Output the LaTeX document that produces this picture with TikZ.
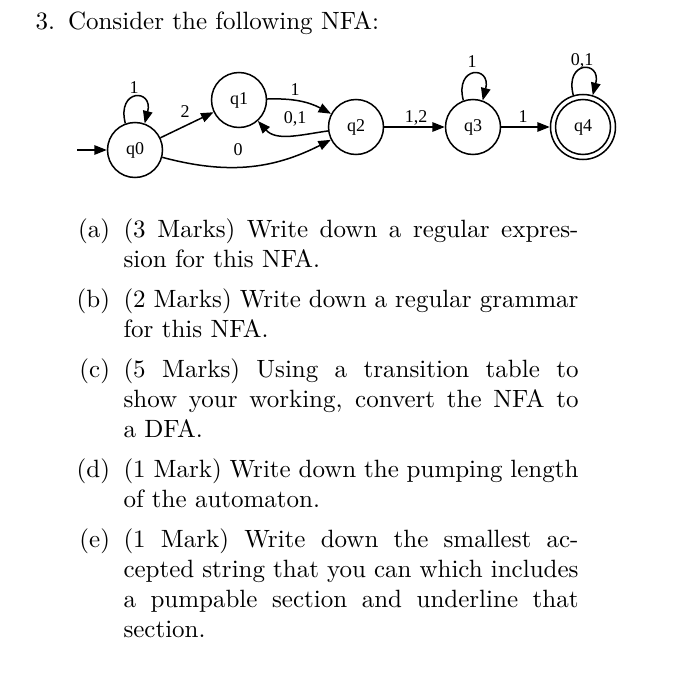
\documentclass[tikz,border=0pt]{standalone}
\usepackage{fontspec}
\newfontfamily\gvfont{Liberation Serif}
\usetikzlibrary{arrows.meta}
\tikzset{
  state/.style={circle, draw, line width=0.6pt, minimum size=22pt, inner sep=0pt, font=\gvfont\fontsize{7.2pt}{8pt}\selectfont},
  arr/.style={line width=0.6pt, -{Triangle[length=5pt,width=3.8pt]}},
  elab/.style={anchor=base, inner sep=0pt, font=\gvfont\fontsize{7.2pt}{8pt}\selectfont},
  tline/.style={anchor=base west, inner sep=0pt},
  ilab/.style={anchor=base east, inner sep=0pt}
}
\newcommand{\jline}[1]{\hbox to 182pt{#1}}
\begin{document}
\begin{tikzpicture}[x=0.4pt, y=-0.4pt]
\path[use as bounding box] (0,0) rectangle (700,680);

% title
\node[tline] (num) at (35,29) {3.};
\node[tline] (title) at (67.5,29) {Consider the following NFA:};

% automaton
\node[state] (q0) at (135,150) {q0};
\node[state] (q1) at (239,100) {q1};
\node[state] (q2) at (356,127) {q2};
\node[state] (q3) at (473,127) {q3};
\node[state, minimum size=26pt] (q4) at (583,127) {q4};
\draw[line width=0.6pt] (q4.center) circle[radius=11pt];
\coordinate (start) at (77,150);

\draw[arr] (start) -- (q0);
\draw[arr] (q0.110) .. controls +(-3.6pt,14pt) and +(3.6pt,14pt) .. (q0.70);
\draw[arr] (q0) -- (q1);
\draw[arr] (q1) to[out=2, in=152] (q2);
\draw[arr] (q2) to[out=188, in=-48] (q1);
\draw[arr] (q0) to[out=-15, in=207] (q2);
\draw[arr] (q2) -- (q3);
\draw[arr] (q3.110) .. controls +(-3.6pt,14pt) and +(3.6pt,14pt) .. (q3.70);
\draw[arr] (q3) -- (q4);
\draw[arr] (q4.107) .. controls +(-3.6pt,14pt) and +(3.6pt,14pt) .. (q4.73);

\node[elab] (l00) at (134,94) {1};
\node[elab] (l01) at (185,117) {2};
\node[elab] (l02) at (238,155) {0};
\node[elab] (l12) at (295,95) {1};
\node[elab] (l21) at (295,123) {0,1};
\node[elab] (l23) at (416,122) {1,2};
\node[elab] (l33) at (472,68) {1};
\node[elab] (l34) at (523,122) {1};
\node[elab] (l44) at (582,65) {0,1};

% questions
\node[ilab] (la) at (110.5,237) {(a)};
\node[tline] (a1) at (123,237) {\jline{(3 Marks) Write down a regular expres-}};
\node[tline] (a2) at (123,267) {sion for this NFA.};

\node[ilab] (lb) at (110.5,307) {(b)};
\node[tline] (b1) at (123,307) {\jline{(2 Marks) Write down a regular grammar}};
\node[tline] (b2) at (123,337) {for this NFA.};

\node[ilab] (lc) at (110.5,377) {(c)};
\node[tline] (c1) at (123,377) {\jline{(5 Marks) Using a transition table to}};
\node[tline] (c2) at (123,407) {\jline{show your working, convert the NFA to}};
\node[tline] (c3) at (123,437) {a DFA.};

\node[ilab] (ld) at (110.5,477) {(d)};
\node[tline] (d1) at (123,477) {\jline{(1 Mark) Write down the pumping length}};
\node[tline] (d2) at (123,507) {of the automaton.};

\node[ilab] (le) at (110.5,547) {(e)};
\node[tline] (e1) at (123,547) {\jline{(1 Mark) Write down the smallest ac-}};
\node[tline] (e2) at (123,577) {\jline{cepted string that you can which includes}};
\node[tline] (e3) at (123,607) {\jline{a pumpable section and underline that}};
\node[tline] (e4) at (123,637) {section.};
\end{tikzpicture}
\end{document}
